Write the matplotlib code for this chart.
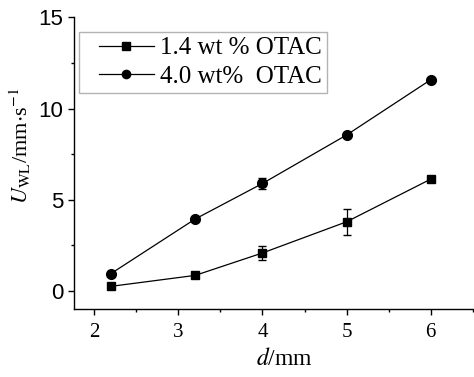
import matplotlib
matplotlib.use("Agg")
import matplotlib.pyplot as plt
from matplotlib.ticker import MultipleLocator
from matplotlib.legend_handler import HandlerLine2D

plt.rcParams['mathtext.fontset'] = 'stix'

# data
d_mm = [2.2, 3.2, 4.0, 5.0, 6.0]
u_14 = [0.25, 0.85, 2.08, 3.79, 6.13]
err_14 = [0.05, 0.08, 0.36, 0.70, 0.10]
u_40 = [0.95, 3.94, 5.89, 8.55, 11.58]
err_40 = [0.05, 0.08, 0.30, 0.10, 0.10]
labels = ['1.4 wt % OTAC', '4.0 wt%  OTAC']

serif = 'Liberation Serif'
sans = 'Liberation Sans'

fig = plt.figure(figsize=(4.74, 3.77), dpi=100)
# axes run a bit past the right edge of the picture, like the reference crop
ax = fig.add_axes([0.156, 0.18, 0.886, 0.774])

ax.errorbar(d_mm, u_14, yerr=err_14, color='black', marker='s', markersize=6,
            linewidth=0.9, elinewidth=0.9, capsize=3, label=labels[0])
ax.errorbar(d_mm, u_40, yerr=err_40, color='black', marker='o', markersize=7,
            linewidth=0.9, elinewidth=0.9, capsize=3, label=labels[1])

ax.set_xlim(1.76, 6.75)
ax.set_ylim(-1, 15)
ax.xaxis.set_major_locator(MultipleLocator(1))
ax.xaxis.set_minor_locator(MultipleLocator(0.5))
ax.yaxis.set_major_locator(MultipleLocator(5))
ax.yaxis.set_minor_locator(MultipleLocator(2.5))

for s in ['top', 'right']:
    ax.spines[s].set_visible(False)
for s in ['left', 'bottom']:
    ax.spines[s].set_linewidth(1.0)

ax.tick_params(which='major', direction='out', length=4, width=1)
ax.tick_params(which='minor', direction='out', length=2.5, width=1)
ax.tick_params(axis='x', which='major', pad=6)
for t in ax.get_xticklabels():
    t.set_fontfamily(serif)
    t.set_fontsize(15)
for t in ax.get_yticklabels():
    t.set_fontfamily(sans)
    t.set_fontsize(16)

ax.set_xlabel(r'$d$/mm', fontsize=17, family=serif, labelpad=4)
ax.set_ylabel(r'$U_{\rm WL}$/mm$\cdot$s$^{-1}$', fontsize=16, family=serif)
ax.yaxis.set_label_coords(-0.098, 0.56)

handles, labs = ax.get_legend_handles_labels()
handles = [h[0] for h in handles]
leg = ax.legend(handles, labs, loc='upper left', bbox_to_anchor=(0.0119, 0.95),
                borderaxespad=0, frameon=True, fancybox=False, handlelength=2.8,
                prop={'family': serif, 'size': 18}, labelspacing=0.25,
                handletextpad=0.25, borderpad=0.2, markerscale=0.85,
                handler_map={h: HandlerLine2D(xpad=0.6) for h in handles})
leg.get_frame().set_edgecolor('#a0a0a0')
leg.get_frame().set_linewidth(1.0)

fig.savefig('out.png', dpi=100)
